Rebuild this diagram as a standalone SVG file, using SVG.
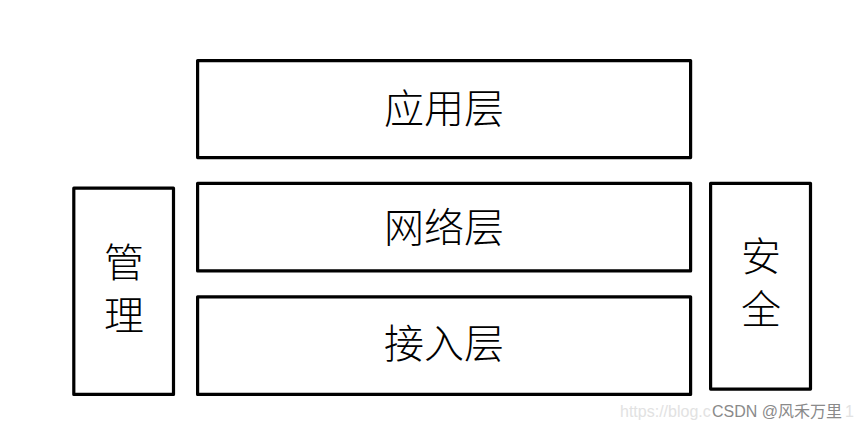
<svg xmlns="http://www.w3.org/2000/svg" width="863" height="429" viewBox="0 0 863 429">
<style>
.box{fill:#fff;stroke:#000;stroke-width:3.2;stroke-linejoin:round}
.lbl{font-family:"Noto Sans CJK SC","Noto Sans CJK JP",sans-serif;font-size:40px;font-weight:300;fill:#000;text-anchor:middle;dominant-baseline:central}
.vt{writing-mode:vertical-rl;letter-spacing:13px}
.wm{font-family:"Liberation Sans","Noto Sans CJK SC",sans-serif;font-size:16px}
</style>
<rect width="863" height="429" fill="#fff"/>
<g id="app">
<rect class="box" x="197.6" y="60.6" width="493" height="97"/>
<text class="lbl" x="444" y="106">应用层</text>
</g>
<g id="net">
<rect class="box" x="197.6" y="183.3" width="493" height="87.6"/>
<text class="lbl" x="444" y="225">网络层</text>
</g>
<g id="access">
<rect class="box" x="197.6" y="296.8" width="493" height="97.6"/>
<text class="lbl" x="444" y="341">接入层</text>
</g>
<g id="mgmt">
<rect class="box" x="73.8" y="188.2" width="99.7" height="206.2"/>
<text class="lbl vt" x="124" y="294.5">管理</text>
</g>
<g id="sec">
<rect class="box" x="710.6" y="183.3" width="99.9" height="205.8"/>
<text class="lbl vt" x="761" y="288.5">安全</text>
</g>
<g id="connectors"></g>
<g id="watermark">
<text class="wm" x="620" y="417" fill="#e2e2e2">https://blog.c</text>
<text class="wm" x="712" y="417" fill="#8a8a8a">CSDN @风禾万里</text>
<text class="wm" x="845" y="417" fill="#e2e2e2">1</text>
</g>
</svg>
